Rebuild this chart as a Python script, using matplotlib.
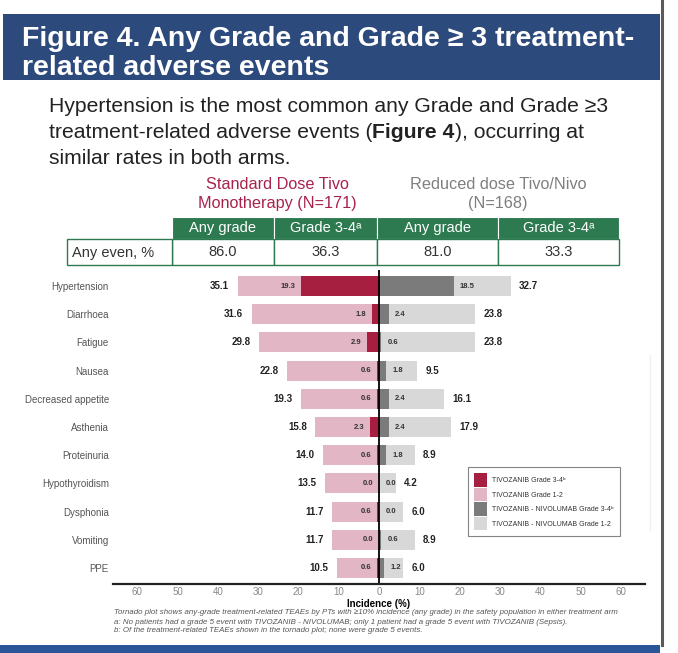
import matplotlib
matplotlib.use("Agg")
import matplotlib.pyplot as plt
from matplotlib.patches import Rectangle, Patch
from matplotlib.lines import Line2D

plt.rcParams['font.family'] = ['Liberation Sans', 'DejaVu Sans']

W, H = 678, 653

# data
events = ["Hypertension", "Diarrhoea", "Fatigue", "Nausea", "Decreased appetite",
          "Asthenia", "Proteinuria", "Hypothyroidism", "Dysphonia", "Vomiting", "PPE"]
tivo_any = [35.1, 31.6, 29.8, 22.8, 19.3, 15.8, 14.0, 13.5, 11.7, 11.7, 10.5]
tivo_g34 = [19.3, 1.8, 2.9, 0.6, 0.6, 2.3, 0.6, 0.0, 0.6, 0.0, 0.6]
combo_any = [32.7, 23.8, 23.8, 9.5, 16.1, 17.9, 8.9, 4.2, 6.0, 8.9, 6.0]
combo_g34 = [18.5, 2.4, 0.6, 1.8, 2.4, 2.4, 1.8, 0.0, 0.0, 0.6, 1.2]
arm_names = ["Standard Dose Tivo\nMonotherapy (N=171)", "Reduced dose Tivo/Nivo\n(N=168)"]
table_cols = ["Any grade", "Grade 3-4\u1d43", "Any grade", "Grade 3-4\u1d43"]
table_row = "Any even, %"
table_vals = [86.0, 36.3, 81.0, 33.3]
legend_labels = ["TIVOZANIB Grade 3-4\u1d47", "TIVOZANIB Grade 1-2",
                 "TIVOZANIB - NIVOLUMAB Grade 3-4\u1d47", "TIVOZANIB - NIVOLUMAB Grade 1-2"]

RED, PINK = "#A61E40", "#E2B6C4"
DGRAY, LGRAY = "#7B7B7B", "#D8D8D8"
GREEN = "#2E7A50"
NAVY = "#2D4A7C"

fig = plt.figure(figsize=(W / 100, H / 100), dpi=100)


def fx(x):
    return x / W


def fy(y):
    return 1 - y / H


def frect(x0, y0, x1, y1, **kw):
    fig.patches.append(Rectangle((fx(x0), fy(y1)), fx(x1) - fx(x0), fy(y0) - fy(y1),
                                 transform=fig.transFigure, **kw))


# page frame
frect(3, 14, 660, 80, facecolor=NAVY, edgecolor="none")
frect(0, 645, 660, 653, facecolor="#2A5599", edgecolor="none")
fig.add_artist(Line2D([fx(661.5), fx(661.5)], [fy(0), fy(645)], color="#5A5A5A", lw=2.2,
                      transform=fig.transFigure))
fig.add_artist(Line2D([fx(650), fx(650)], [fy(355), fy(530)], color="#F0F0F0", lw=1,
                      transform=fig.transFigure))

fig.text(fx(22), fy(46), "Figure 4. Any Grade and Grade \u2265 3 treatment-",
         color="white", fontsize=20.5, weight="bold", va="baseline")
fig.text(fx(22), fy(75), "related adverse events",
         color="white", fontsize=20.5, weight="bold", va="baseline")

# intro sentence with bold part
renderer = fig.canvas.get_renderer()
fs_intro = 15.2
fig.text(fx(49), fy(112), "Hypertension is the most common any Grade and Grade \u22653",
         fontsize=fs_intro, color="#222222", va="baseline")
x = fx(49)
for s, w in [("treatment-related adverse events (", "normal"), ("Figure 4", "bold"),
             ("), occurring at", "normal")]:
    t = fig.text(x, fy(138), s, fontsize=fs_intro, color="#222222", weight=w, va="baseline")
    x += t.get_window_extent(renderer).width / W
fig.text(fx(49), fy(164), "similar rates in both arms.", fontsize=fs_intro, color="#222222",
         va="baseline")

# arm headers
fig.text(fx(277), fy(194), arm_names[0], color="#A8234C", fontsize=11.7, ha="center",
         va="center", linespacing=1.3)
fig.text(fx(498), fy(194), arm_names[1], color="#7F7F7F", fontsize=11.7, ha="center",
         va="center", linespacing=1.3)

# table
edges = [172, 274, 377, 498, 619]
for i in range(4):
    frect(edges[i], 217, edges[i + 1], 239, facecolor=GREEN, edgecolor="white", lw=0.8)
    fig.text(fx((edges[i] + edges[i + 1]) / 2), fy(228), table_cols[i], color="white",
             fontsize=10.5, ha="center", va="center")
    frect(edges[i], 239, edges[i + 1], 265, facecolor="white", edgecolor=GREEN, lw=1)
    fig.text(fx((edges[i] + edges[i + 1]) / 2), fy(252.5), f"{table_vals[i]:.1f}",
             color="#333333", fontsize=10.5, ha="center", va="center")
frect(66.5, 239, 172, 265, facecolor="white", edgecolor=GREEN, lw=1)
fig.text(fx(72), fy(252.5), table_row, color="#333333", fontsize=10.5, va="center")

# tornado chart
ax = fig.add_axes([fx(113), fy(584), fx(645) - fx(113), fy(270) - fy(584)])
y = list(range(len(events)))
tivo_low = [a - g for a, g in zip(tivo_any, tivo_g34)]
combo_low = [a - g for a, g in zip(combo_any, combo_g34)]
bh = 0.71
ax.barh(y, [-v for v in tivo_g34], height=bh, color=RED)
ax.barh(y, [-v for v in tivo_low], left=[-v for v in tivo_g34], height=bh, color=PINK)
ax.barh(y, combo_g34, height=bh, color=DGRAY)
ax.barh(y, combo_low, left=combo_g34, height=bh, color=LGRAY)

for i in y:
    ax.annotate(f"{tivo_g34[i]:.1f}", (-tivo_g34[i], i), xytext=(-4, 0), textcoords="offset points",
                ha="right", va="center", fontsize=5.5, weight="bold", color="#333333")
    ax.annotate(f"{combo_g34[i]:.1f}", (combo_g34[i], i), xytext=(4.5, 0), textcoords="offset points",
                ha="left", va="center", fontsize=5.5, weight="bold", color="#333333")
    ax.annotate(f"{tivo_any[i]:.1f}", (-tivo_any[i], i), xytext=(-6, 0), textcoords="offset points",
                ha="right", va="center", fontsize=7, weight="bold", color="#222222")
    ax.annotate(f"{combo_any[i]:.1f}", (combo_any[i], i), xytext=(6, 0), textcoords="offset points",
                ha="left", va="center", fontsize=7, weight="bold", color="#222222")

ax.axvline(0, color="black", lw=1.3)
ax.set_xlim(-66, 66)
ax.set_ylim(len(events) - 0.43, -0.57)
ax.set_yticks(y)
ax.set_yticklabels(events, fontsize=7, color="#555555")
ticks = list(range(-60, 61, 10))
ax.set_xticks(ticks)
ax.set_xticklabels([str(abs(t)) for t in ticks], fontsize=7, color="#888888")
ax.tick_params(length=0, axis="x", pad=2.5)
ax.tick_params(length=0, axis="y", pad=3)
for s in ["top", "left", "right"]:
    ax.spines[s].set_visible(False)
ax.spines["bottom"].set_linewidth(1.6)
ax.spines["bottom"].set_color("#222222")
ax.set_xlabel("Incidence (%)", fontsize=7, weight="bold", labelpad=1)

handles = [Patch(facecolor=c, edgecolor="none") for c in [RED, PINK, DGRAY, LGRAY]]
leg = ax.legend(handles, legend_labels, loc="upper left", bbox_to_anchor=(0.667, 0.3726),
                borderaxespad=0, fontsize=5, frameon=True, fancybox=False, edgecolor="#666666",
                handlelength=1.9, handleheight=2.6, labelspacing=0.15, borderpad=0.9,
                handletextpad=0.75)
leg.get_frame().set_linewidth(0.8)
for t in leg.get_texts():
    t.set_color("#333333")

# footnotes
notes = ["Tornado plot shows any-grade treatment-related TEAEs by PTs with \u226510% incidence (any grade) in the safety population in either treatment arm",
         "a: No patients had a grade 5 event with TIVOZANIB - NIVOLUMAB; only 1 patient had a grade 5 event with TIVOZANIB (Sepsis).",
         "b: Of the treatment-related TEAEs shown in the tornado plot; none were grade 5 events."]
for k, n in enumerate(notes):
    fig.text(fx(114), fy(613 + 9 * k), n, fontsize=5.65, style="italic", color="#555555",
             va="center")

fig.savefig("out.png", dpi=100)
